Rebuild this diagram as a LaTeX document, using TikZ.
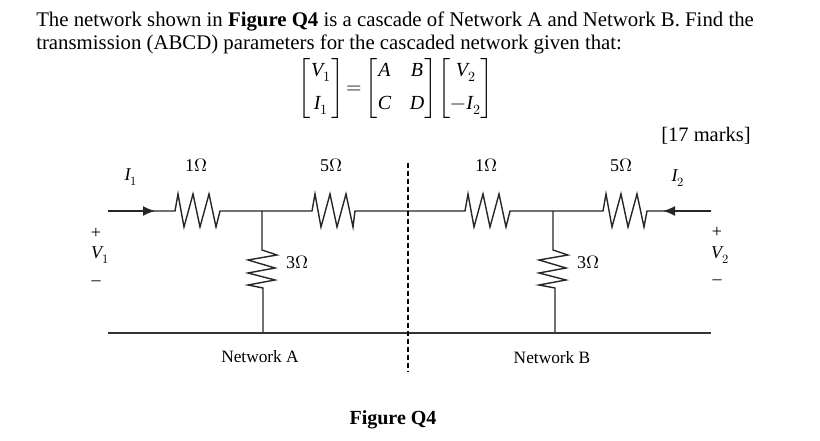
\documentclass[tikz,border=0pt]{standalone}
\usepackage{amsmath}
\usepackage{fontspec}
\setmainfont{Liberation Serif}
\usepackage{unicode-math}
\setmathfont{Latin Modern Math}
\setmathfont[range={it/{latin,Latin}}]{Liberation Serif Italic}
\usetikzlibrary{arrows.meta}
\usetikzlibrary{positioning}

\tikzset{
  wire/.style = {line width=1.05pt, black!85},
  rail/.style = {line width=1.4pt, black!80},
  hres/.style = {to path={-- ++(3,17) -- ++(6,-33) -- ++(9,33) -- ++(7,-33) -- ++(9,33) -- ++(7,-33) -- (\tikztotarget)}},
  vres/.style = {to path={-- ++(15,-5) -- ++(-29,-5) -- ++(27,-8) -- ++(-27,-5) -- ++(27,-7) -- ++(-27,-5) -- (\tikztotarget)}},
  label/.style = {font=\fontsize{13.5}{15}\selectfont, inner sep=0pt},
  netlabel/.style = {font=\fontsize{13}{15}\selectfont, inner sep=0pt},
  head/.style = {font=\fontsize{15.6}{17.4}\selectfont, inner sep=0pt}
}

\begin{document}
\begin{tikzpicture}[x=0.75pt, y=0.75pt]
  \useasboundingbox (0,0) rectangle (820,441);

  % question text
  \node[head, anchor=north west, align=left] (question) at (36,429.5)
    {The network shown in \textbf{Figure Q4} is a cascade of Network A and Network B. Find the\\
     transmission (ABCD) parameters for the cascaded network given that:};
  \node[inner sep=0pt, font=\fontsize{15}{17}\selectfont] (matrix) at (396,352.5)
    {\setlength{\arraycolsep}{7pt}$\begin{bmatrix} V_1\\[8pt] I_1 \end{bmatrix}\!=\!\begin{bmatrix} A & B\\[8pt] C & D \end{bmatrix}\!\begin{bmatrix} V_2\\[8pt] -I_2 \end{bmatrix}$};
  \node[head, font=\fontsize{15.4}{17}\selectfont] (marks) at (706,305) {[17 marks]};

  % top wire
  \coordinate (inL) at (108,230);
  \coordinate (r1a) at (175,230);
  \coordinate (r1b) at (220,230);
  \coordinate (jA) at (262,230);
  \coordinate (r2a) at (312,230);
  \coordinate (r2b) at (355,230);
  \coordinate (r3a) at (465,230);
  \coordinate (r3b) at (510,230);
  \coordinate (jB) at (553,230);
  \coordinate (r4a) at (603,230);
  \coordinate (r4b) at (647,230);
  \coordinate (inR) at (711,230);

  % bottom rail
  \coordinate (botL) at (108,108);
  \coordinate (botA) at (263,108);
  \coordinate (botB) at (555,108);
  \coordinate (botR) at (711,108);

  % shunt legs
  \coordinate (sAa) at (262,191);
  \coordinate (sAb) at (263,153);
  \coordinate (sBa) at (553,191);
  \coordinate (sBb) at (555,153);

  \draw[wire] (inL) -- (r1a) to[hres] (r1b) -- (jA) -- (r2a) to[hres] (r2b)
    -- (r3a) to[hres] (r3b) -- (jB) -- (r4a) to[hres] (r4b) -- (inR);
  \draw[wire] (jA) -- (sAa) to[vres] (sAb) -- (botA);
  \draw[wire] (jB) -- (sBa) to[vres] (sBb) -- (botB);
  \draw[rail] (botL) -- (botR);

  % current arrows
  \draw[wire, -{Latex[length=9pt,width=7.5pt]}] (inL) -- (155,230);
  \draw[wire, -{Latex[length=9pt,width=7.5pt]}] (inR) -- (663,230);

  % divider
  \coordinate (divT) at (408,278);
  \coordinate (divB) at (408,69);
  \draw[line width=1pt, dash pattern=on 4pt off 2pt] (divT) -- (divB);

  % labels
  \node[label] (lr1) at (196,276) {1$\Omega$};
  \node[label] (lr2) at (331,276) {5$\Omega$};
  \node[label] (lr3) at (486,276) {1$\Omega$};
  \node[label] (lr4) at (621,276) {5$\Omega$};
  \node[label] (lsA) at (297,179) {3$\Omega$};
  \node[label] (lsB) at (588,179) {3$\Omega$};
  \node[label] (li1) at (131,264) {$I_1$};
  \node[label] (li2) at (678,263) {$I_2$};
  \node[label] (plusL) at (96,208) {+};
  \node[label] (vL) at (100,186) {$V_1$};
  \node[label] (minusL) at (96,158) {--};
  \node[label] (plusR) at (717,209) {+};
  \node[label] (vR) at (720,186) {$V_2$};
  \node[label] (minusR) at (717,159) {--};
  \node[netlabel] (netA) at (260,84) {Network A};
  \node[netlabel] (netB) at (552,83) {Network B};
  \node[head, font=\fontsize{15}{18}\bfseries\selectfont] (figure) at (393,21) {Figure Q4};
\end{tikzpicture}
\end{document}
